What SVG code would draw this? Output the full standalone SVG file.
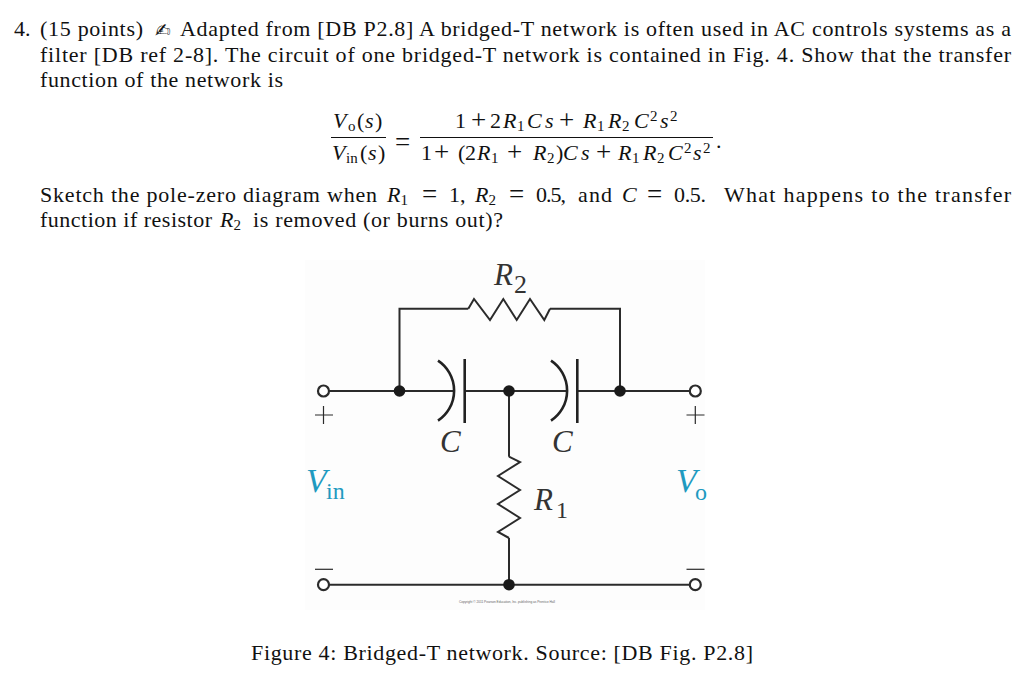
<svg xmlns="http://www.w3.org/2000/svg" width="1024" height="697" viewBox="0 0 1024 697">
<defs>
<style>
.t{font-family:"Liberation Serif","Times New Roman",serif;font-size:22px;fill:#111}
.i{font-style:italic}
.s{font-size:15px;font-style:normal}
.op{font-size:27px;font-style:normal}
.w{fill:none;stroke:#2b2b2b;stroke-width:2;stroke-linejoin:miter}
.cap{fill:none;stroke:#222;stroke-width:2.600}
.d{fill:#1a1a1a}
.o{fill:#fff;stroke:#2b2b2b;stroke-width:2.200}
.l{font-family:"Liberation Serif","Times New Roman",serif;fill:#333;font-size:31px}
.c{font-family:"Liberation Serif","Times New Roman",serif;fill:#1f9ac0}
.bar{stroke:#111;stroke-width:1;fill:none}
</style>
</defs>
<rect width="1024" height="697" fill="#fff"/>
<rect x="305" y="260" width="400" height="350" fill="#fdfdfd"/>
<g id="problem-text">
<text class="t" x="14" y="36">4.</text>
<text class="t" x="40" y="36" textLength="103" lengthAdjust="spacing">(15 points)</text>
<text x="155" y="37" font-family="DejaVu Sans" font-size="19" fill="#111">✍</text>
<text class="t" x="180" y="36" textLength="831" lengthAdjust="spacing">Adapted from [DB P2.8] A bridged-T network is often used in AC controls systems as a</text>
<text class="t" x="40" y="62" textLength="971" lengthAdjust="spacing">filter [DB ref 2-8]. The circuit of one bridged-T network is contained in Fig. 4. Show that the transfer</text>
<text class="t" x="40" y="87" textLength="243" lengthAdjust="spacing">function of the network is</text>
<text class="t" x="40" y="202" textLength="337" lengthAdjust="spacing">Sketch the pole-zero diagram when</text>
<text class="t i" x="387" y="202">R<tspan class="s" dy="3">1</tspan></text>
<text class="t op" x="422" y="203">=</text>
<text class="t" x="449" y="202">1,</text>
<text class="t i" x="475" y="202">R<tspan class="s" dy="3">2</tspan></text>
<text class="t op" x="509" y="203">=</text>
<text class="t" x="536" y="202" textLength="30" lengthAdjust="spacing">0.5,</text>
<text class="t" x="578" y="202" textLength="34" lengthAdjust="spacing">and</text>
<text class="t i" x="622" y="202">C</text>
<text class="t op" x="647" y="203">=</text>
<text class="t" x="674" y="202" textLength="32" lengthAdjust="spacing">0.5.</text>
<text class="t" x="724" y="202" textLength="287" lengthAdjust="spacing">What happens to the transfer</text>
<text class="t" x="40" y="227" textLength="172" lengthAdjust="spacing">function if resistor</text>
<text class="t i" x="220" y="227">R<tspan class="s" dy="3">2</tspan></text>
<text class="t" x="253" y="227" textLength="250" lengthAdjust="spacing">is removed (or burns out)?</text>
</g>
<g id="equation">
<text class="t" y="128"><tspan class="i" x="333">V</tspan><tspan class="s i" x="348" dy="3">o</tspan><tspan x="357" dy="-3">(</tspan><tspan class="i" x="365">s</tspan><tspan x="375">)</tspan></text>
<line class="bar" x1="331" y1="137.500" x2="386" y2="137.500"/>
<text class="t" y="160"><tspan class="i" x="332">V</tspan><tspan class="s" x="346" dy="3">in</tspan><tspan x="360" dy="-3">(</tspan><tspan class="i" x="368">s</tspan><tspan x="378">)</tspan></text>
<text class="t op" x="395" y="151">=</text>
<text class="t" y="128"><tspan x="455">1</tspan><tspan class="op" x="471" dy="1">+</tspan><tspan x="490" dy="-1">2</tspan><tspan class="i" x="503">R</tspan><tspan class="s" x="517" dy="3">1</tspan><tspan class="i" x="527" dy="-3">C</tspan><tspan class="i" x="545">s</tspan><tspan class="op" x="559" dy="1">+</tspan><tspan class="i" x="583" dy="-1">R</tspan><tspan class="s" x="597" dy="3">1</tspan><tspan class="i" x="608" dy="-3">R</tspan><tspan class="s" x="622" dy="3">2</tspan><tspan class="i" x="634" dy="-3">C</tspan><tspan class="s" x="650" dy="-7">2</tspan><tspan class="i" x="660" dy="7">s</tspan><tspan class="s" x="670" dy="-7">2</tspan></text>
<line class="bar" x1="420" y1="137.500" x2="713" y2="137.500"/>
<text class="t" y="160"><tspan x="421">1</tspan><tspan class="op" x="434" dy="1">+</tspan><tspan x="458" dy="-1">(</tspan><tspan x="465">2</tspan><tspan class="i" x="477">R</tspan><tspan class="s" x="491" dy="3">1</tspan><tspan class="op" x="507" dy="-2">+</tspan><tspan class="i" x="533" dy="-1">R</tspan><tspan class="s" x="547" dy="3">2</tspan><tspan x="556" dy="-3">)</tspan><tspan class="i" x="563">C</tspan><tspan class="i" x="581">s</tspan><tspan class="op" x="596" dy="1">+</tspan><tspan class="i" x="618" dy="-1">R</tspan><tspan class="s" x="632" dy="3">1</tspan><tspan class="i" x="643" dy="-3">R</tspan><tspan class="s" x="657" dy="3">2</tspan><tspan class="i" x="668" dy="-3">C</tspan><tspan class="s" x="684" dy="-7">2</tspan><tspan class="i" x="693" dy="7">s</tspan><tspan class="s" x="703" dy="-7">2</tspan></text>
<text class="t" x="716" y="148">.</text>
</g>
<g id="connectors">
<path class="w" d="M329 391H454M465 391H567M577 391H690"/>
<path class="w" d="M399.500 391V308.700H468.300M550 308.700H620V391"/>
<path class="w" d="M509 391V456.700M509 538V584.700"/>
<path class="w" d="M329 584.700H690"/>
</g>
<g id="R2"><path class="w" d="M468.300 308.700L474 299L490 320L503.300 299L516.700 320L530 299L544.300 320L550 308.700"/>
<text class="l i" x="494" y="285">R</text><text class="l" x="514" y="293" style="font-size:26px">2</text></g>
<g id="R1"><path class="w" d="M509 456.700L520 462L498 476L520 490L498 504L520 518L498 532L509 538"/>
<text class="l i" x="534" y="510">R</text><text class="l" x="556" y="518" style="font-size:24px">1</text></g>
<g id="C1"><path class="cap" d="M438 360.700A36 36 0 0 1 438 420.700"/><line class="cap" x1="464.700" y1="359" x2="464.700" y2="423"/>
<text class="l i" x="440" y="452">C</text></g>
<g id="C2"><path class="cap" d="M551 360.700A36 36 0 0 1 551 420.700"/><line class="cap" x1="577.300" y1="359" x2="577.300" y2="423"/>
<text class="l i" x="552" y="452">C</text></g>
<g id="junction-left"><circle class="d" cx="399.500" cy="391" r="5.800"/></g>
<g id="junction-center"><circle class="d" cx="509" cy="391" r="5.800"/></g>
<g id="junction-right"><circle class="d" cx="620" cy="391" r="5.800"/></g>
<g id="junction-bottom"><circle class="d" cx="509" cy="584.700" r="5.800"/></g>
<g id="port-in-plus"><circle class="o" cx="323.500" cy="391" r="5.500"/><path class="w" style="stroke-width:1.200" d="M315 415H333M323.500 406V424"/></g>
<g id="port-out-plus"><circle class="o" cx="695.300" cy="391" r="5.500"/><path class="w" style="stroke-width:1.200" d="M686.500 415H704.500M695.300 406V424"/></g>
<g id="port-in-minus"><circle class="o" cx="323.500" cy="584.700" r="5.500"/><path class="w" style="stroke-width:1.200" d="M315 569.300H333"/></g>
<g id="port-out-minus"><circle class="o" cx="695.300" cy="584.700" r="5.500"/><path class="w" style="stroke-width:1.200" d="M686.500 569.300H704.500"/></g>
<g id="Vin"><text class="c i" x="306" y="492" style="font-size:34px">V</text><text class="c" x="326" y="499" style="font-size:24px">in</text></g>
<g id="Vo"><text class="c i" x="676" y="492" style="font-size:34px">V</text><text class="c" x="695" y="500" style="font-size:24px">o</text></g>
<text x="459" y="603" font-family="Liberation Sans" font-size="3.200" fill="#666" textLength="96" lengthAdjust="spacing">Copyright © 2011 Pearson Education, Inc. publishing as Prentice Hall</text>
<text id="caption" class="t" x="251" y="660" textLength="502" lengthAdjust="spacing">Figure 4: Bridged-T network. Source: [DB Fig. P2.8]</text>
</svg>
